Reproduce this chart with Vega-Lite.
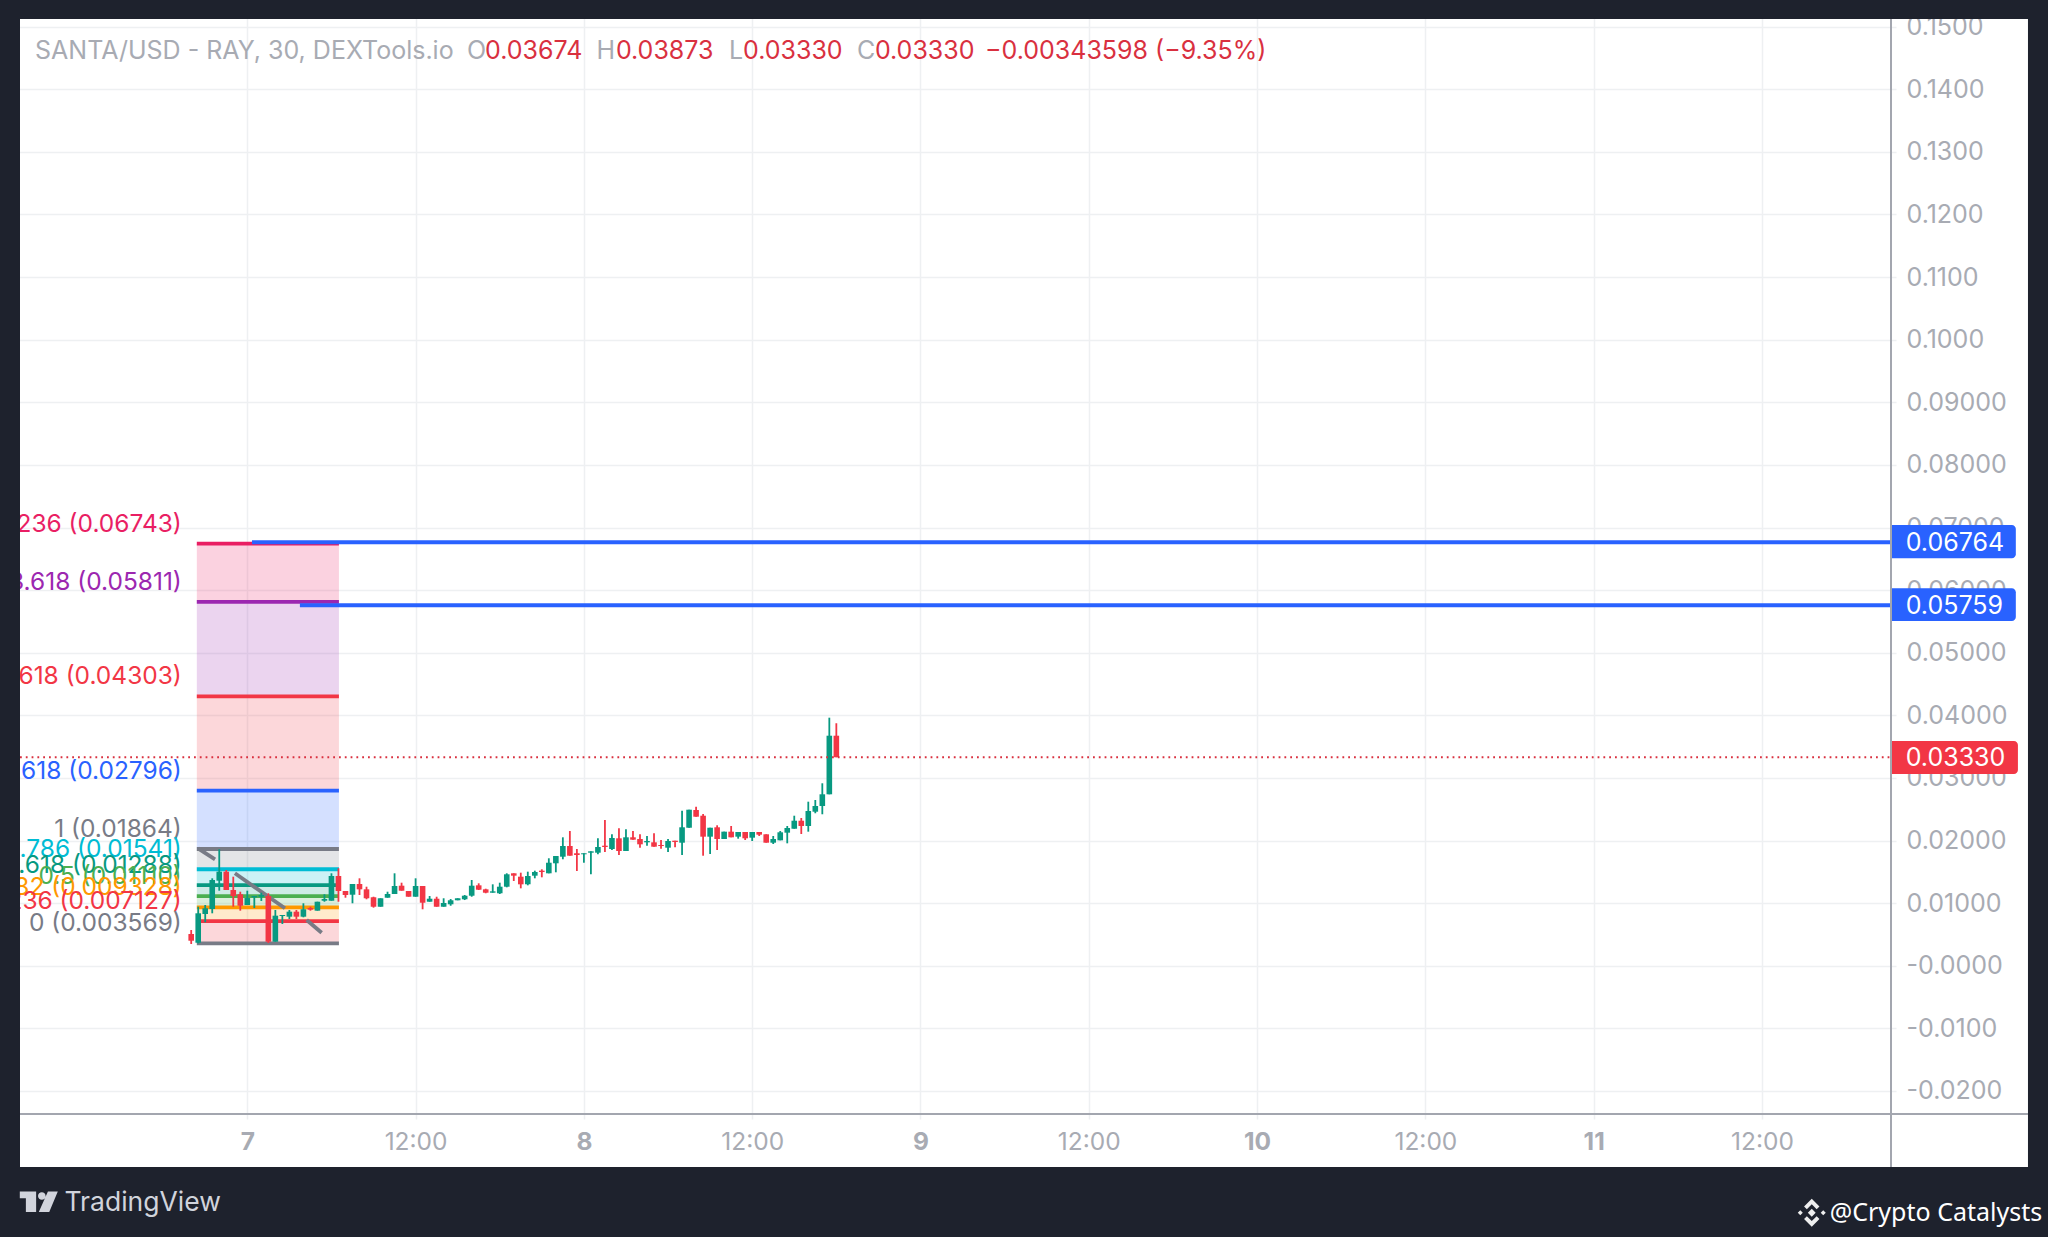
{"$schema":"https://vega.github.io/schema/vega-lite/v6.json","autosize":"none","width":1881,"height":1105,"padding":{"left":15,"top":14,"right":152,"bottom":118},"background":"#ffffff","config":{"view":{"stroke":null},"text":{"font":"Inter"},"axis":{"labelFont":"Inter","title":null}},
"datasets":{"candles":[
{"t":"2024-12-06T20:00:00Z","o":0.00506,"h":0.0057,"l":0.00347,"c":0.00399},
{"t":"2024-12-06T20:30:00Z","o":0.00367,"h":0.00942,"l":0.00357,"c":0.00837},
{"t":"2024-12-06T21:00:00Z","o":0.00826,"h":0.0097,"l":0.00693,"c":0.00917},
{"t":"2024-12-06T21:30:00Z","o":0.00906,"h":0.01396,"l":0.00837,"c":0.01369},
{"t":"2024-12-06T22:00:00Z","o":0.01358,"h":0.01859,"l":0.01198,"c":0.01502},
{"t":"2024-12-06T22:30:00Z","o":0.01502,"h":0.01529,"l":0.01209,"c":0.01209},
{"t":"2024-12-06T23:00:00Z","o":0.01209,"h":0.01422,"l":0.00942,"c":0.01113},
{"t":"2024-12-06T23:30:00Z","o":0.01141,"h":0.01182,"l":0.00879,"c":0.00958},
{"t":"2024-12-07T00:00:00Z","o":0.0097,"h":0.01198,"l":0.0097,"c":0.01081},
{"t":"2024-12-07T00:30:00Z","o":0.01093,"h":0.01113,"l":0.00922,"c":0.01113},
{"t":"2024-12-07T01:00:00Z","o":0.01102,"h":0.01166,"l":0.01034,"c":0.01129},
{"t":"2024-12-07T01:30:00Z","o":0.01113,"h":0.01157,"l":0.00363,"c":0.00383},
{"t":"2024-12-07T02:00:00Z","o":0.00383,"h":0.0089,"l":0.00383,"c":0.00799},
{"t":"2024-12-07T02:30:00Z","o":0.00794,"h":0.0081,"l":0.00666,"c":0.0081},
{"t":"2024-12-07T03:00:00Z","o":0.00783,"h":0.0089,"l":0.00746,"c":0.00863},
{"t":"2024-12-07T03:30:00Z","o":0.00863,"h":0.0089,"l":0.00746,"c":0.00783},
{"t":"2024-12-07T04:00:00Z","o":0.00783,"h":0.00997,"l":0.00773,"c":0.00901},
{"t":"2024-12-07T04:30:00Z","o":0.00922,"h":0.00942,"l":0.00879,"c":0.00895},
{"t":"2024-12-07T05:00:00Z","o":0.00879,"h":0.01022,"l":0.00879,"c":0.01022},
{"t":"2024-12-07T05:30:00Z","o":0.01038,"h":0.01141,"l":0.01022,"c":0.01065},
{"t":"2024-12-07T06:00:00Z","o":0.01038,"h":0.01476,"l":0.01038,"c":0.01433},
{"t":"2024-12-07T06:30:00Z","o":0.01433,"h":0.01556,"l":0.01022,"c":0.01193},
{"t":"2024-12-07T07:00:00Z","o":0.01193,"h":0.01193,"l":0.01086,"c":0.01129},
{"t":"2024-12-07T07:30:00Z","o":0.01134,"h":0.01305,"l":0.00997,"c":0.01305},
{"t":"2024-12-07T08:00:00Z","o":0.01305,"h":0.01396,"l":0.01129,"c":0.0122},
{"t":"2024-12-07T08:30:00Z","o":0.0122,"h":0.01262,"l":0.01061,"c":0.01077},
{"t":"2024-12-07T09:00:00Z","o":0.01093,"h":0.01102,"l":0.00927,"c":0.00942},
{"t":"2024-12-07T09:30:00Z","o":0.00942,"h":0.01077,"l":0.00942,"c":0.01077},
{"t":"2024-12-07T10:00:00Z","o":0.01086,"h":0.01182,"l":0.01086,"c":0.01145},
{"t":"2024-12-07T10:30:00Z","o":0.01145,"h":0.01476,"l":0.01145,"c":0.01273},
{"t":"2024-12-07T11:00:00Z","o":0.01278,"h":0.01326,"l":0.01198,"c":0.01198},
{"t":"2024-12-07T11:30:00Z","o":0.01193,"h":0.01193,"l":0.01102,"c":0.01102},
{"t":"2024-12-07T12:00:00Z","o":0.01102,"h":0.01396,"l":0.01102,"c":0.01273},
{"t":"2024-12-07T12:30:00Z","o":0.01273,"h":0.01273,"l":0.00901,"c":0.01006},
{"t":"2024-12-07T13:00:00Z","o":0.01022,"h":0.01113,"l":0.01022,"c":0.0107},
{"t":"2024-12-07T13:30:00Z","o":0.0107,"h":0.01102,"l":0.00942,"c":0.00942},
{"t":"2024-12-07T14:00:00Z","o":0.00942,"h":0.01077,"l":0.00942,"c":0.01002},
{"t":"2024-12-07T14:30:00Z","o":0.00981,"h":0.01065,"l":0.00958,"c":0.01045},
{"t":"2024-12-07T15:00:00Z","o":0.01045,"h":0.01077,"l":0.01045,"c":0.01077},
{"t":"2024-12-07T15:30:00Z","o":0.01061,"h":0.01129,"l":0.01049,"c":0.01118},
{"t":"2024-12-07T16:00:00Z","o":0.01118,"h":0.01369,"l":0.01102,"c":0.01278},
{"t":"2024-12-07T16:30:00Z","o":0.01284,"h":0.01316,"l":0.01209,"c":0.01214},
{"t":"2024-12-07T17:00:00Z","o":0.0122,"h":0.0123,"l":0.01157,"c":0.01166},
{"t":"2024-12-07T17:30:00Z","o":0.01166,"h":0.013,"l":0.01166,"c":0.01188},
{"t":"2024-12-07T18:00:00Z","o":0.01157,"h":0.01326,"l":0.01145,"c":0.01262},
{"t":"2024-12-07T18:30:00Z","o":0.01262,"h":0.01476,"l":0.01252,"c":0.0146},
{"t":"2024-12-07T19:00:00Z","o":0.01476,"h":0.01476,"l":0.01353,"c":0.01438},
{"t":"2024-12-07T19:30:00Z","o":0.01422,"h":0.01486,"l":0.01236,"c":0.013},
{"t":"2024-12-07T20:00:00Z","o":0.013,"h":0.01502,"l":0.01284,"c":0.01433},
{"t":"2024-12-07T20:30:00Z","o":0.01438,"h":0.01518,"l":0.01396,"c":0.01497},
{"t":"2024-12-07T21:00:00Z","o":0.01518,"h":0.0154,"l":0.01412,"c":0.01497},
{"t":"2024-12-07T21:30:00Z","o":0.01476,"h":0.01716,"l":0.01476,"c":0.01645},
{"t":"2024-12-07T22:00:00Z","o":0.01636,"h":0.01752,"l":0.01492,"c":0.01752},
{"t":"2024-12-07T22:30:00Z","o":0.01741,"h":0.02051,"l":0.017,"c":0.01912},
{"t":"2024-12-07T23:00:00Z","o":0.01912,"h":0.02152,"l":0.01757,"c":0.01757},
{"t":"2024-12-07T23:30:00Z","o":0.01796,"h":0.01864,"l":0.01513,"c":0.01768},
{"t":"2024-12-08T00:00:00Z","o":0.0178,"h":0.01796,"l":0.01645,"c":0.01796},
{"t":"2024-12-08T00:30:00Z","o":0.01805,"h":0.01827,"l":0.0146,"c":0.01827},
{"t":"2024-12-08T01:00:00Z","o":0.01805,"h":0.02035,"l":0.0178,"c":0.01896},
{"t":"2024-12-08T01:30:00Z","o":0.01917,"h":0.02327,"l":0.01816,"c":0.01896},
{"t":"2024-12-08T02:00:00Z","o":0.01864,"h":0.02099,"l":0.01848,"c":0.0204},
{"t":"2024-12-08T02:30:00Z","o":0.02035,"h":0.02195,"l":0.01768,"c":0.01832},
{"t":"2024-12-08T03:00:00Z","o":0.01832,"h":0.02179,"l":0.01832,"c":0.02051},
{"t":"2024-12-08T03:30:00Z","o":0.02051,"h":0.02152,"l":0.02013,"c":0.02013},
{"t":"2024-12-08T04:00:00Z","o":0.02024,"h":0.02099,"l":0.01885,"c":0.01939},
{"t":"2024-12-08T04:30:00Z","o":0.01971,"h":0.02072,"l":0.01917,"c":0.01992},
{"t":"2024-12-08T05:00:00Z","o":0.01971,"h":0.02115,"l":0.01901,"c":0.01901},
{"t":"2024-12-08T05:30:00Z","o":0.01928,"h":0.02008,"l":0.01869,"c":0.01912},
{"t":"2024-12-08T06:00:00Z","o":0.01885,"h":0.02024,"l":0.01816,"c":0.01992},
{"t":"2024-12-08T06:30:00Z","o":0.01997,"h":0.01997,"l":0.01891,"c":0.01976},
{"t":"2024-12-08T07:00:00Z","o":0.01965,"h":0.02476,"l":0.01768,"c":0.02211},
{"t":"2024-12-08T07:30:00Z","o":0.02204,"h":0.02492,"l":0.02204,"c":0.02492},
{"t":"2024-12-08T08:00:00Z","o":0.02487,"h":0.0254,"l":0.0238,"c":0.0238},
{"t":"2024-12-08T08:30:00Z","o":0.02396,"h":0.02423,"l":0.01757,"c":0.02061},
{"t":"2024-12-08T09:00:00Z","o":0.02061,"h":0.02204,"l":0.01784,"c":0.02204},
{"t":"2024-12-08T09:30:00Z","o":0.02211,"h":0.02243,"l":0.01848,"c":0.02024},
{"t":"2024-12-08T10:00:00Z","o":0.02024,"h":0.02141,"l":0.02024,"c":0.02141},
{"t":"2024-12-08T10:30:00Z","o":0.02141,"h":0.02232,"l":0.02051,"c":0.02051},
{"t":"2024-12-08T11:00:00Z","o":0.02061,"h":0.02136,"l":0.02029,"c":0.02136},
{"t":"2024-12-08T11:30:00Z","o":0.02136,"h":0.02136,"l":0.02008,"c":0.02035},
{"t":"2024-12-08T12:00:00Z","o":0.02045,"h":0.02136,"l":0.01992,"c":0.02136},
{"t":"2024-12-08T12:30:00Z","o":0.02136,"h":0.02136,"l":0.02072,"c":0.02093},
{"t":"2024-12-08T13:00:00Z","o":0.02099,"h":0.02099,"l":0.01965,"c":0.01965},
{"t":"2024-12-08T13:30:00Z","o":0.01965,"h":0.02072,"l":0.01944,"c":0.02024},
{"t":"2024-12-08T14:00:00Z","o":0.02003,"h":0.02152,"l":0.02003,"c":0.02131},
{"t":"2024-12-08T14:30:00Z","o":0.02125,"h":0.02232,"l":0.01955,"c":0.022},
{"t":"2024-12-08T15:00:00Z","o":0.02188,"h":0.02396,"l":0.02188,"c":0.02316},
{"t":"2024-12-08T15:30:00Z","o":0.02316,"h":0.02359,"l":0.02104,"c":0.02232},
{"t":"2024-12-08T16:00:00Z","o":0.02232,"h":0.0262,"l":0.02141,"c":0.02471},
{"t":"2024-12-08T16:30:00Z","o":0.0246,"h":0.02647,"l":0.02435,"c":0.02551},
{"t":"2024-12-08T17:00:00Z","o":0.02551,"h":0.02914,"l":0.02419,"c":0.02738},
{"t":"2024-12-08T17:30:00Z","o":0.02738,"h":0.03962,"l":0.02738,"c":0.03674},
{"t":"2024-12-08T18:00:00Z","o":0.03674,"h":0.03873,"l":0.0333,"c":0.0333}
],
"fib":[
{"level":"4.236","price":0.06743,"base":0.05811,"t0":"2024-12-06T20:24:00Z","t1":"2024-12-07T06:32:00Z","label":"4.236 (0.06743)"},
{"level":"3.618","price":0.05811,"base":0.04303,"t0":"2024-12-06T20:24:00Z","t1":"2024-12-07T06:32:00Z","label":"3.618 (0.05811)"},
{"level":"2.618","price":0.04303,"base":0.02796,"t0":"2024-12-06T20:24:00Z","t1":"2024-12-07T06:32:00Z","label":"2.618 (0.04303)"},
{"level":"1.618","price":0.02796,"base":0.01864,"t0":"2024-12-06T20:24:00Z","t1":"2024-12-07T06:32:00Z","label":"1.618 (0.02796)"},
{"level":"1","price":0.01864,"base":0.01541,"t0":"2024-12-06T20:24:00Z","t1":"2024-12-07T06:32:00Z","label":"1 (0.01864)"},
{"level":"0.786","price":0.01541,"base":0.01288,"t0":"2024-12-06T20:24:00Z","t1":"2024-12-07T06:32:00Z","label":"0.786 (0.01541)"},
{"level":"0.618","price":0.01288,"base":0.0111,"t0":"2024-12-06T20:24:00Z","t1":"2024-12-07T06:32:00Z","label":"0.618 (0.01288)"},
{"level":"0.5","price":0.0111,"base":0.009328,"t0":"2024-12-06T20:24:00Z","t1":"2024-12-07T06:32:00Z","label":"0.5 (0.01110)"},
{"level":"0.382","price":0.009328,"base":0.007127,"t0":"2024-12-06T20:24:00Z","t1":"2024-12-07T06:32:00Z","label":"0.382 (0.009328)"},
{"level":"0.236","price":0.007127,"base":0.003569,"t0":"2024-12-06T20:24:00Z","t1":"2024-12-07T06:32:00Z","label":"0.236 (0.007127)"},
{"level":"0","price":0.003569,"t0":"2024-12-06T20:24:00Z","t1":"2024-12-07T06:32:00Z","label":"0 (0.003569)"}
]},
"layer":[
{"data":{"name":"fib"},"transform":[{"filter":"isValid(datum.base)"}],"mark":{"type":"rect","opacity":0.2},
"encoding":{
"x":{"field":"t0","type":"temporal","scale":{"type":"utc","domain":["2024-12-06T07:47:35Z","2024-12-11T21:12:00Z"]},"axis":{"title":null,"values":[1733529600000,1733572800000,1733616000000,1733659200000,1733702400000,1733745600000,1733788800000,1733832000000,1733875200000,1733918400000],"labelExpr":"utchours(datum.value)==0 ? ''+utcdate(datum.value) : '12:00'","labelFontWeight":{"condition":{"test":"utchours(datum.value)==0","value":700},"value":400},"labelFont":"Inter","labelFontSize":24.5,"labelColor":"#a8abb3","labelPadding":11,"ticks":false,"domain":false,"grid":true,"gridColor":"#eef0f2","gridWidth":1.5}},
"x2":{"field":"t1"},
"y":{"field":"price","type":"quantitative","scale":{"domain":[-0.02369,0.15123],"nice":false,"zero":false},"axis":{"title":null,"orient":"right","values":[-0.02,-0.01,0,0.01,0.02,0.03,0.04,0.05,0.06,0.07,0.08,0.09,0.1,0.11,0.12,0.13,0.14,0.15],"labelExpr":"datum.value<0.00001 ? '-'+format(abs(datum.value),'.4f') : (datum.value<0.0999 ? format(datum.value,'.5f') : format(datum.value,'.4f'))","labelFont":"Inter","labelFontSize":25,"labelColor":"#a8abb3","labelPadding":10,"labelAlign":"left","labelBound":false,"ticks":false,"domain":false,"grid":true,"gridColor":"#eef0f2","gridWidth":1.5}},
"y2":{"field":"base"},
"color":{"field":"level","type":"nominal","legend":null,"scale":{"domain":["4.236","3.618","2.618","1.618","1","0.786","0.618","0.5","0.382","0.236","0"],"range":["#e91e63","#9c27b0","#f23645","#2962ff","#787b86","#00bcd4","#089981","#4caf50","#ff9800","#f23645","#787b86"]}}}},
{"data":{"name":"fib"},"mark":{"type":"rule","strokeWidth":3.8},"encoding":{"x":{"field":"t0","type":"temporal"},"x2":{"field":"t1"},"y":{"field":"price","type":"quantitative"},"color":{"field":"level","type":"nominal","legend":null}}},
{"data":{"values":[
{"t0":"2024-12-06T20:29:00Z","t1":"2024-12-06T21:42:00Z","p0":0.01875,"p1":0.017},
{"t0":"2024-12-06T23:07:00Z","t1":"2024-12-07T02:41:00Z","p0":0.01476,"p1":0.00917},
{"t0":"2024-12-07T04:14:00Z","t1":"2024-12-07T05:18:00Z","p0":0.0073,"p1":0.00527}]},
"mark":{"type":"rule","strokeWidth":3.8,"color":"#787b86"},"encoding":{"x":{"field":"t0","type":"temporal"},"x2":{"field":"t1"},"y":{"field":"p0","type":"quantitative"},"y2":{"field":"p1"}}},
{"data":{"name":"candles"},"mark":{"type":"rule","strokeWidth":1.8},"encoding":{"x":{"field":"t","type":"temporal"},"y":{"field":"l","type":"quantitative"},"y2":{"field":"h"},"color":{"condition":{"test":"datum.c>=datum.o","value":"#089981"},"value":"#f23645"}}},
{"data":{"name":"candles"},"mark":{"type":"bar","size":5.6},"encoding":{"x":{"field":"t","type":"temporal"},"y":{"field":"o","type":"quantitative"},"y2":{"field":"c"},"color":{"condition":{"test":"datum.c>=datum.o","value":"#089981"},"value":"#f23645"}}},
{"data":{"values":[{"t0":"2024-12-07T00:20:00Z","t1":"2024-12-11T21:12:00Z","p":0.06764},{"t0":"2024-12-07T03:45:00Z","t1":"2024-12-11T21:12:00Z","p":0.05759}]},"mark":{"type":"rule","strokeWidth":4,"color":"#2962ff"},"encoding":{"x":{"field":"t0","type":"temporal"},"x2":{"field":"t1"},"y":{"field":"p","type":"quantitative"}}},
{"data":{"values":[{"t0":"2024-12-06T07:47:35Z","t1":"2024-12-11T21:12:00Z","p":0.0333}]},"mark":{"type":"rule","strokeWidth":1.8,"strokeDash":[1.8,4],"color":"#d9303f"},"encoding":{"x":{"field":"t0","type":"temporal"},"x2":{"field":"t1"},"y":{"field":"p","type":"quantitative"}}},
{"data":{"name":"fib"},"mark":{"type":"text","align":"right","baseline":"middle","dx":-15,"dy":-19,"fontSize":24.5},"encoding":{"x":{"field":"t0","type":"temporal"},"y":{"field":"price","type":"quantitative"},"text":{"field":"label"},"color":{"field":"level","type":"nominal","legend":null}}},
{"data":{"values":[
{"t0":"2024-12-11T21:12:00Z","t1":"2024-12-12T06:15:00Z","lo":0.03062,"hi":0.03589,"p":0.0333,"kind":"last","t":"2024-12-11T22:15:00Z","label":"0.03330"},
{"t0":"2024-12-11T21:12:00Z","t1":"2024-12-12T06:06:00Z","lo":0.05506,"hi":0.06029,"p":0.05759,"kind":"line","t":"2024-12-11T22:15:00Z","label":"0.05759"},
{"t0":"2024-12-11T21:12:00Z","t1":"2024-12-12T06:06:00Z","lo":0.06508,"hi":0.0704,"p":0.06764,"kind":"line","t":"2024-12-11T22:15:00Z","label":"0.06764"}]},
"layer":[
{"mark":{"type":"bar","cornerRadiusTopRight":4,"cornerRadiusBottomRight":4,"orient":"horizontal"},"encoding":{"x":{"field":"t0","type":"temporal"},"x2":{"field":"t1"},"y":{"field":"lo","type":"quantitative"},"y2":{"field":"hi"},"color":{"condition":{"test":"datum.kind=='last'","value":"#f23645"},"value":"#2962ff"}}},
{"mark":{"type":"text","align":"left","baseline":"middle","fontSize":25,"dy":1,"color":"#ffffff"},"encoding":{"x":{"field":"t","type":"temporal"},"y":{"field":"p","type":"quantitative"},"text":{"field":"label"}}}]},
{"data":{"values":[{"t":"2024-12-06T08:52:00Z","p":0.14628,"label":"SANTA/USD - RAY, 30, DEXTools.io"},{"t":"2024-12-07T15:40:00Z","p":0.14628,"label":"O"},{"t":"2024-12-08T00:54:00Z","p":0.14628,"label":"H"},{"t":"2024-12-08T10:21:00Z","p":0.14628,"label":"L"},{"t":"2024-12-08T19:28:00Z","p":0.14628,"label":"C"}]},
"mark":{"type":"text","align":"left","baseline":"middle","fontSize":25,"dy":1,"color":"#a8abb3"},"encoding":{"x":{"field":"t","type":"temporal"},"y":{"field":"p","type":"quantitative"},"text":{"field":"label"}}},
{"data":{"values":[{"t":"2024-12-07T16:57:00Z","p":0.14628,"label":"0.03674"},{"t":"2024-12-08T02:17:00Z","p":0.14628,"label":"0.03873"},{"t":"2024-12-08T11:21:00Z","p":0.14628,"label":"0.03330"},{"t":"2024-12-08T20:45:00Z","p":0.14628,"label":"0.03330"},{"t":"2024-12-09T04:36:00Z","p":0.14628,"label":"−0.00343598 (−9.35%)"}]},
"mark":{"type":"text","align":"left","baseline":"middle","fontSize":25,"dy":1,"color":"#d9303f"},"encoding":{"x":{"field":"t","type":"temporal"},"y":{"field":"p","type":"quantitative"},"text":{"field":"label"}}},
{"data":{"values":[
{"t0":"2024-12-11T21:12:00Z","t1":"2024-12-11T21:12:00Z","p0":0.15123,"p1":-0.03216},
{"t0":"2024-12-06T07:47:35Z","t1":"2024-12-12T06:58:00Z","p0":-0.02369,"p1":-0.02369}]},
"mark":{"type":"rule","strokeWidth":2,"color":"#a3a6af"},"encoding":{"x":{"field":"t0","type":"temporal"},"x2":{"field":"t1"},"y":{"field":"p0","type":"quantitative"},"y2":{"field":"p1"}}},
{"data":{"values":[
{"t0":"2024-12-01T00:00:00Z","t1":"2024-12-06T07:47:35Z","p0":-0.2,"p1":0.3},
{"t0":"2024-12-12T06:58:00Z","t1":"2024-12-20T00:00:00Z","p0":-0.2,"p1":0.3},
{"t0":"2024-12-01T00:00:00Z","t1":"2024-12-20T00:00:00Z","p0":0.15123,"p1":0.3},
{"t0":"2024-12-01T00:00:00Z","t1":"2024-12-20T00:00:00Z","p0":-0.2,"p1":-0.03216}]},
"mark":{"type":"rect","color":"#1e222d"},"encoding":{"x":{"field":"t0","type":"temporal"},"x2":{"field":"t1"},"y":{"field":"p0","type":"quantitative"},"y2":{"field":"p1"}}},
{"data":{"values":[{"t":"2024-12-06T10:58:00Z","p":-0.03791,"label":"TradingView"}]},"mark":{"type":"text","align":"left","baseline":"middle","fontSize":26.5,"color":"#d1d4dc"},"encoding":{"x":{"field":"t","type":"temporal"},"y":{"field":"p","type":"quantitative"},"text":{"field":"label"}}},
{"data":{"values":[{"t":"2024-12-11T16:50:00Z","p":-0.0395,"label":"@Crypto Catalysts"}]},"mark":{"type":"text","align":"left","baseline":"middle","fontSize":25,"font":"Noto Sans","color":"#ffffff"},"encoding":{"x":{"field":"t","type":"temporal"},"y":{"field":"p","type":"quantitative"},"text":{"field":"label"}}},
{"data":{"values":[{"t":"2024-12-06T09:08:00Z","p":-0.0377}]},"mark":{"type":"point","filled":true,"opacity":1,"size":1444,"color":"#d1d4dc","shape":"M-1,-.536H-.14V.536H-.68V-.18H-1Z M.48,-.536H1L.55,.536H0Z M-.04,-.3A.2,.2 0 1,1 .36,-.3A.2,.2 0 1,1 -.04,-.3Z"},"encoding":{"x":{"field":"t","type":"temporal"},"y":{"field":"p","type":"quantitative"}}},
{"data":{"values":[{"t":"2024-12-11T15:33:00Z","p":-0.03946}]},"mark":{"type":"point","filled":true,"opacity":1,"size":784,"color":"#eeeeee","shape":"M0,-.28L.28,0L0,.28L-.28,0Z M-1,0L-.82,-.18L-.64,0L-.82,.18Z M1,0L.82,-.18L.64,0L.82,.18Z M0,-1L.55,-.45L.35,-.25L0,-.6L-.35,-.25L-.55,-.45Z M0,1L.55,.45L.35,.25L0,.6L-.35,.25L-.55,.45Z"},"encoding":{"x":{"field":"t","type":"temporal"},"y":{"field":"p","type":"quantitative"}}}
]}
